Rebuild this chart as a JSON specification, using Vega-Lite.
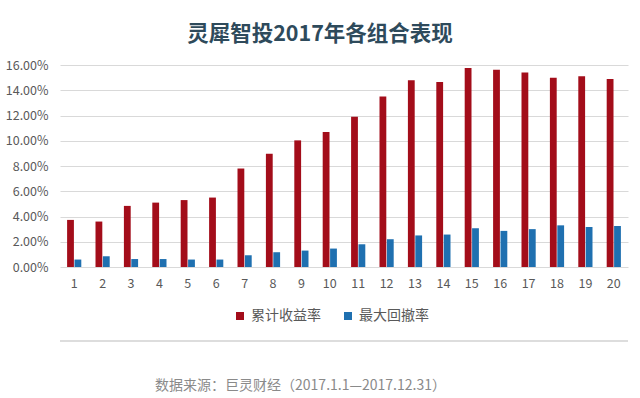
{
  "$schema": "https://vega.github.io/schema/vega-lite/v6.json",
  "autosize": {"type": "none"},
  "width": 568,
  "height": 202,
  "padding": {"left": 60, "top": 65, "right": 12, "bottom": 131},
  "background": "#ffffff",
  "config": {
    "font": "Noto Sans CJK SC",
    "view": {"stroke": null}
  },
  "title": {
    "text": "灵犀智投2017年各组合表现",
    "fontSize": 21.5,
    "fontWeight": "bold",
    "color": "#2e4a5b",
    "anchor": "middle",
    "dx": -24,
    "offset": 14,
    "font": "Noto Sans CJK SC"
  },
  "data": {
    "values": [
      {"组合": 1, "指标": "累计收益率", "值": 0.0373},
      {"组合": 2, "指标": "累计收益率", "值": 0.0360},
      {"组合": 3, "指标": "累计收益率", "值": 0.0484},
      {"组合": 4, "指标": "累计收益率", "值": 0.0510},
      {"组合": 5, "指标": "累计收益率", "值": 0.0530},
      {"组合": 6, "指标": "累计收益率", "值": 0.0550},
      {"组合": 7, "指标": "累计收益率", "值": 0.0780},
      {"组合": 8, "指标": "累计收益率", "值": 0.0897},
      {"组合": 9, "指标": "累计收益率", "值": 0.1003},
      {"组合": 10, "指标": "累计收益率", "值": 0.1070},
      {"组合": 11, "指标": "累计收益率", "值": 0.1190},
      {"组合": 12, "指标": "累计收益率", "值": 0.1350},
      {"组合": 13, "指标": "累计收益率", "值": 0.1480},
      {"组合": 14, "指标": "累计收益率", "值": 0.1465},
      {"组合": 15, "指标": "累计收益率", "值": 0.1577},
      {"组合": 16, "指标": "累计收益率", "值": 0.1563},
      {"组合": 17, "指标": "累计收益率", "值": 0.1540},
      {"组合": 18, "指标": "累计收益率", "值": 0.1500},
      {"组合": 19, "指标": "累计收益率", "值": 0.1510},
      {"组合": 20, "指标": "累计收益率", "值": 0.1490},
      {"组合": 1, "指标": "最大回撤率", "值": 0.0059},
      {"组合": 2, "指标": "最大回撤率", "值": 0.0085},
      {"组合": 3, "指标": "最大回撤率", "值": 0.0063},
      {"组合": 4, "指标": "最大回撤率", "值": 0.0063},
      {"组合": 5, "指标": "最大回撤率", "值": 0.0059},
      {"组合": 6, "指标": "最大回撤率", "值": 0.0059},
      {"组合": 7, "指标": "最大回撤率", "值": 0.0093},
      {"组合": 8, "指标": "最大回撤率", "值": 0.0117},
      {"组合": 9, "指标": "最大回撤率", "值": 0.0130},
      {"组合": 10, "指标": "最大回撤率", "值": 0.0146},
      {"组合": 11, "指标": "最大回撤率", "值": 0.0180},
      {"组合": 12, "指标": "最大回撤率", "值": 0.0220},
      {"组合": 13, "指标": "最大回撤率", "值": 0.0250},
      {"组合": 14, "指标": "最大回撤率", "值": 0.0257},
      {"组合": 15, "指标": "最大回撤率", "值": 0.0307},
      {"组合": 16, "指标": "最大回撤率", "值": 0.0286},
      {"组合": 17, "指标": "最大回撤率", "值": 0.0300},
      {"组合": 18, "指标": "最大回撤率", "值": 0.0330},
      {"组合": 19, "指标": "最大回撤率", "值": 0.0317},
      {"组合": 20, "指标": "最大回撤率", "值": 0.0325}
    ]
  },
  "layer": [
    {
      "mark": {"type": "bar"},
      "encoding": {
        "x": {
          "field": "组合",
          "type": "ordinal",
          "sort": "ascending",
          "scale": {"paddingInner": 0.5, "paddingOuter": 0.25},
          "axis": {
            "title": "数据来源：巨灵财经（2017.1.1—2017.12.31）",
            "titleFontSize": 14,
            "titleFontWeight": "normal",
            "titleColor": "#8a8a8a",
            "titlePadding": 89,
            "titleX": 240,
            "titleAlign": "center",
            "labelAngle": 0,
            "labelFontSize": 12.5,
            "labelColor": "#595959",
            "labelPadding": 10,
            "ticks": false,
            "domain": false,
            "grid": false
          }
        },
        "xOffset": {
          "field": "指标",
          "type": "nominal",
          "sort": ["累计收益率", "最大回撤率"],
          "scale": {"paddingInner": 0.08}
        },
        "y": {
          "field": "值",
          "type": "quantitative",
          "scale": {"domain": [0, 0.16], "nice": false},
          "axis": {
            "title": null,
            "format": ".2%",
            "values": [0, 0.02, 0.04, 0.06, 0.08, 0.1, 0.12, 0.14, 0.16],
            "labelOverlap": false,
            "labelFontSize": 12.5,
            "labelColor": "#595959",
            "labelPadding": 12,
            "ticks": false,
            "domain": false,
            "gridColor": "#d9d9d9",
            "gridWidth": 1
          }
        },
        "color": {
          "field": "指标",
          "type": "nominal",
          "sort": ["累计收益率", "最大回撤率"],
          "scale": {"domain": ["累计收益率", "最大回撤率"], "range": ["#a30d1a", "#1f70b0"]},
          "legend": {
            "title": null,
            "orient": "none",
            "direction": "horizontal",
            "legendX": 173,
            "legendY": 244,
            "symbolType": "square",
            "symbolSize": 64,
            "symbolStrokeWidth": 0,
            "labelFontSize": 14,
            "labelColor": "#595959",
            "labelOffset": 4,
            "columnPadding": 20
          }
        }
      }
    },
    {
      "mark": {"type": "rule", "color": "#dddddd", "strokeWidth": 1.5},
      "encoding": {
        "y": {
          "datum": -0.0586,
          "type": "quantitative",
          "axis": {
            "title": null,
            "format": ".2%",
            "values": [0, 0.02, 0.04, 0.06, 0.08, 0.1, 0.12, 0.14, 0.16],
            "labelOverlap": false,
            "labelFontSize": 12.5,
            "labelColor": "#595959",
            "labelPadding": 12,
            "ticks": false,
            "domain": false,
            "gridColor": "#d9d9d9",
            "gridWidth": 1
          }
        }
      }
    }
  ]
}
